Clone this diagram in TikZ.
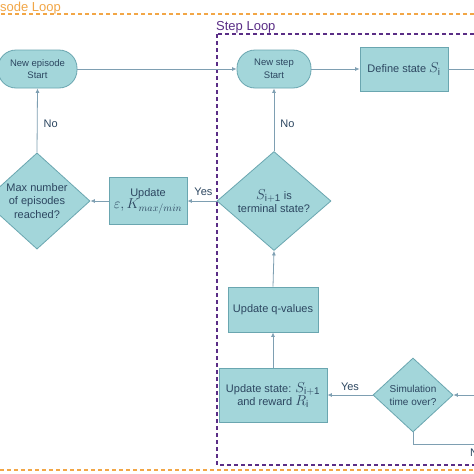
\documentclass[tikz,border=0pt]{standalone}
\usepackage{fontspec}
\setmainfont{Liberation Sans}
\usetikzlibrary{shapes.geometric,arrows.meta}
\definecolor{boxfill}{HTML}{A3D6DA}
\definecolor{boxdraw}{HTML}{6AA6B0}
\definecolor{conn}{HTML}{7E9FB2}
\definecolor{txt}{HTML}{2C4660}
\definecolor{epi}{HTML}{F2A646}
\definecolor{stp}{HTML}{5A2D86}
\newcommand{\largemath}[1]{{\fontsize{14}{14}\selectfont$#1$}}
\tikzset{
  base/.style={fill=boxfill,draw=boxdraw,line width=0.8pt,text=txt,align=center,inner sep=0pt,font=\fontsize{11}{13.5}\selectfont},
  term/.style={base,rectangle,rounded corners=18pt,font=\fontsize{9.5}{12.5}\selectfont},
  proc/.style={base,rectangle},
  dec/.style={base,diamond},
  conn/.style={draw=conn,line width=0.8pt,-{Latex[length=4.5pt,width=4pt]}},
  plain/.style={draw=conn,line width=0.8pt},
  lbl/.style={text=txt,font=\fontsize{11}{13}\selectfont,inner sep=0pt},
  looplbl/.style={font=\fontsize{13}{15}\selectfont,inner sep=0pt},
}
\begin{document}
\begin{tikzpicture}[x=1pt,y=-1pt]
\useasboundingbox (0,0) rectangle (474,474);
\clip (0,0) rectangle (474,474);
\fill[white] (0,0) rectangle (474,474);
% loops
\draw[epi,line width=1.4pt,dash pattern=on 4pt off 3pt] (-20,14) rectangle (520,470);
\node[looplbl,text=epi,anchor=base east] (eplbl) at (61,11) {Episode Loop};
\draw[stp,line width=1.4pt,dash pattern=on 4pt off 3pt] (217,34) rectangle (520,465);
\node[looplbl,text=stp,anchor=base west] (stlbl) at (216,30) {Step Loop};
% nodes
\node[term,minimum width=79pt,minimum height=38pt] (newep) at (37.5,69) {New episode\\Start};
\node[term,minimum width=74pt,minimum height=38pt] (newst) at (274,69) {New step\\Start};
\node[proc,minimum width=88pt,minimum height=44pt] (define) at (404,69) {Define state \largemath{S_{\mathrm{i}}}};
\node[dec,minimum width=106pt,minimum height=88pt] (maxep) at (37,201) {Max number\\of episodes\\reached?};
\node[proc,minimum width=78pt,minimum height=47pt] (updeps) at (148,201) {Update\\[-1pt]\largemath{\varepsilon, K_{max/min}}};
\node[dec,minimum width=114pt,minimum height=99pt] (termq) at (274,201) {\largemath{S_{\mathrm{i+1}}} is\\terminal state?};
\node[proc,minimum width=90pt,minimum height=45pt] (updq) at (273,309.5) {Update q-values};
\node[proc,minimum width=108pt,minimum height=54pt] (updst) at (273,395) {Update state: \largemath{S_{\mathrm{i+1}}}\\and reward \largemath{R_{\mathrm{i}}}};
\node[dec,minimum width=80pt,minimum height=74pt,font=\fontsize{10}{13}\selectfont] (simq) at (413,395) {Simulation\\time over?};
% off-picture ends
\coordinate (defout) at (480,69);
\coordinate (simin) at (480,395);
\coordinate (simbend) at (413,444);
\coordinate (simout) at (480,444);
% connectors
\draw[conn] (newep.east) -- (newst.west);
\draw[conn] (newst.east) -- (define.west);
\draw[plain] (define.east) -- (defout);
\draw[conn] (termq.west) -- node[lbl,above=5pt,pos=0.45] (yes1) {Yes} (updeps.east);
\draw[conn] (updeps.west) -- (maxep.east);
\draw[conn] (maxep.north) -- node[lbl,right=6pt,pos=0.45] (no1) {No} (newep.south);
\draw[conn] (termq.north) -- node[lbl,right=6pt,pos=0.43] (no2) {No} (newst.south);
\draw[conn] (updq.north) -- (termq.south);
\draw[conn] (updst.north) -- (updq.south);
\draw[conn] (simq.west) -- node[lbl,above=4pt] (yes2) {Yes} (updst.east);
\draw[conn] (simin) -- (simq.east);
\draw[plain] (simq.south) -- (simbend) -- (simout);
\node[lbl,anchor=west] (no3) at (470,453) {No};
\end{tikzpicture}
\end{document}
